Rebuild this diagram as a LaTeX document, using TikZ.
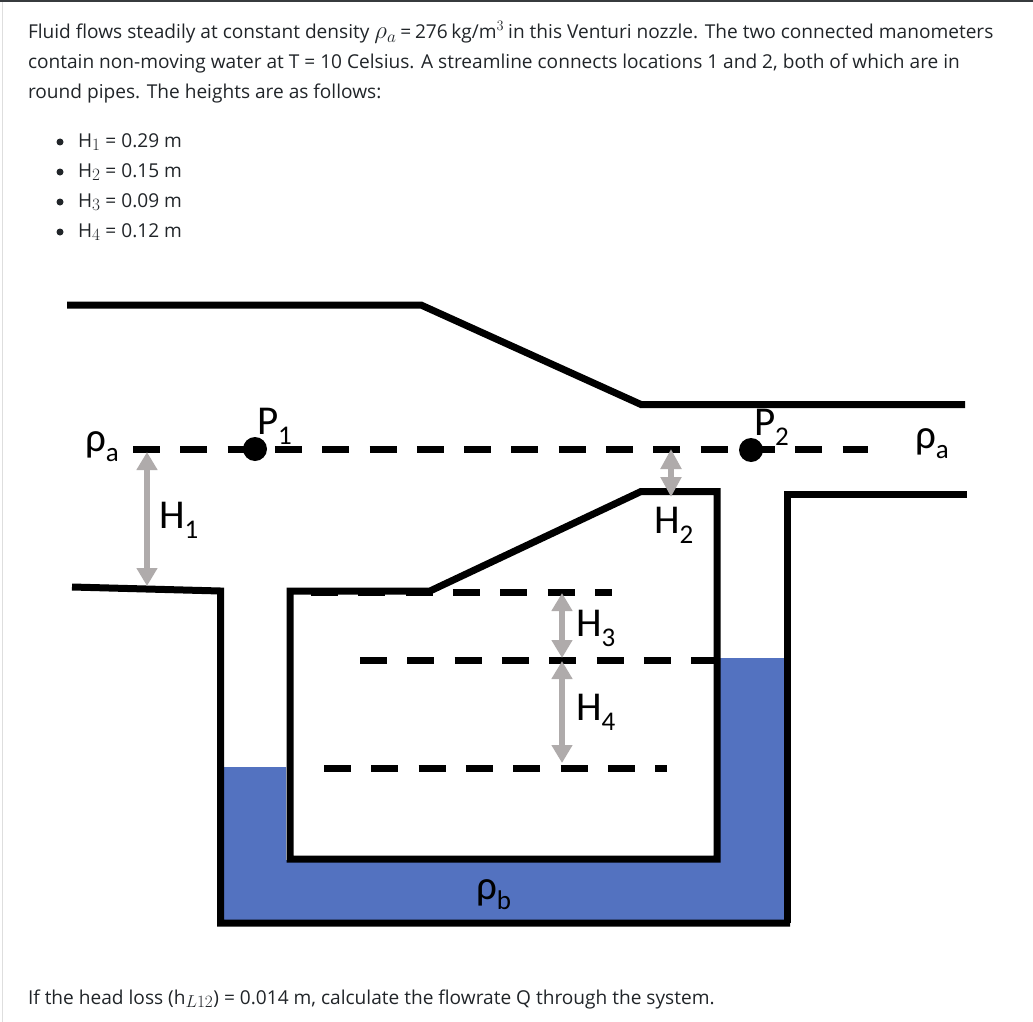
\documentclass[tikz,border=0pt]{standalone}
\usepackage[no-math]{fontspec}
\setmainfont{Open Sans}
\newfontfamily\labfont{Carlito}
\usetikzlibrary{arrows.meta}
\definecolor{water}{HTML}{5372C0}
\definecolor{dimgray}{HTML}{AFABAB}
\definecolor{ink}{HTML}{212529}
\DeclareMathSizes{19.1}{23}{17}{13}
\newcommand\bodyfont{\fontsize{19.1}{23}\selectfont}
\newcommand\lab[2]{\fontsize{41}{41}\labfont #1\raisebox{-10pt}{\fontsize{27}{27}\selectfont #2}}
\tikzset{
  x=1pt,y=-1pt,
  wall/.style={line width=7pt,black,line cap=butt,line join=miter},
  streak/.style={line width=7pt,black,dash pattern=on 27pt off 20.3pt},
  gauge/.style={line width=6.5pt,dimgray,{Triangle[length=18pt,width=20pt]}-{Triangle[length=18pt,width=20pt]}},
  txt/.style={anchor=base west,inner sep=0pt,outer sep=0pt,text=ink,font=\bodyfont},
  lbl/.style={anchor=base west,inner sep=0pt,outer sep=0pt,text=black},
  dotmark/.style={circle,fill=black,inner sep=0pt,minimum size=24pt},
  bulletmark/.style={circle,fill=ink,inner sep=0pt,minimum size=7pt}
}
\begin{document}
\begin{tikzpicture}
\useasboundingbox (0,0) rectangle (1033,1022);
\fill[white] (0,0) rectangle (1033,1022);
\fill[ink!90] (0,0) rectangle (1033,2.5);
\fill[black!13] (1.5,2.5) rectangle (3,1022);

% text
\node[txt] (t1) at (28,39) {Fluid flows steadily at constant density $\rho_a$\kern-1pt{} =\kern-1.2pt{} 276\kern-1.4pt{} kg/m\raisebox{8.5pt}{\fontsize{15}{15}\selectfont$3$}\kern-0.4pt{} in this Venturi nozzle. The two connected manometers};
\node[txt] (t2) at (28,69) {contain non-moving water at T = 10 Celsius. A streamline connects locations 1 and 2, both of which are in};
\node[txt] (t3) at (28,99) {round pipes. The heights are as follows:};
\node[bulletmark] (b1) at (60,142) {};
\node[bulletmark] (b2) at (60,172) {};
\node[bulletmark] (b3) at (60,202) {};
\node[bulletmark] (b4) at (60,232) {};
\node[txt] (h1) at (78,147) {H$_1$ = 0.29 m};
\node[txt] (h2) at (78,177) {H$_2$ = 0.15 m};
\node[txt] (h3) at (78,207) {H$_3$ = 0.09 m};
\node[txt] (h4) at (78,237) {H$_4$ = 0.12 m};
\node[txt] (t4) at (28,1004) {If the head loss (h$_{L12}$) = 0.014 m, calculate the flowrate Q through the system.};

% water
\fill[water] (223,767) -- (286,767) -- (286,860) -- (720,860) -- (720,658) -- (784,658) -- (784,921) -- (223,921) -- cycle;

% dashed levels
\draw[streak] (133,449) -- (868,449);
\draw[streak] (311,592) -- (612,592);
\draw[streak] (360,660) -- (717,660);
\draw[streak] (324,768) -- (667,768);

% walls
\draw[wall] (67,305) -- (421,305) -- (641,404.5) -- (965,404.5);
\draw[wall] (72,587) -- (220.5,591) -- (220.5,923) -- (790,923);
\draw[wall] (787,923) -- (787,494) -- (967,494);
\draw[wall] (430,591) -- (290,591) -- (290,859) -- (717,859) -- (717,491.5) -- (641,491.5) -- (430,591);

% height arrows
\coordinate (h1a) at (147,452);
\coordinate (h1b) at (147,586);
\coordinate (h2a) at (671,449);
\coordinate (h2b) at (671,497);
\coordinate (h3a) at (562,593);
\coordinate (h3b) at (562,658);
\coordinate (h4a) at (562,661);
\coordinate (h4b) at (562,763);
\draw[gauge] (h1a) -- (h1b);
\draw[gauge,{Triangle[length=20pt,width=20pt]}-{Triangle[length=20pt,width=20pt]}] (h2a) -- (h2b);
\draw[gauge] (h3a) -- (h3b);
\draw[gauge] (h4a) -- (h4b);

% points
\node[dotmark] (p1) at (255,449) {};
\node[dotmark] (p2) at (751,450) {};

% labels
\node[lbl] (lp1) at (257,434) {\lab{P}{1}};
\node[lbl] (lp2) at (754,435) {\lab{P}{2}};
\node[lbl] (lra) at (85,451) {\lab{ρ}{a}};
\node[lbl] (lrb) at (915,448) {\lab{ρ}{a}};
\node[lbl] (lrc) at (476,899) {\lab{ρ}{b}};
\node[lbl] (lh1) at (159,528) {\lab{H}{1}};
\node[lbl] (lh2) at (654,533) {\lab{H}{2}};
\node[lbl] (lh3) at (576,636) {\lab{H}{3}};
\node[lbl] (lh4) at (576,720) {\lab{H}{4}};
\end{tikzpicture}
\end{document}
